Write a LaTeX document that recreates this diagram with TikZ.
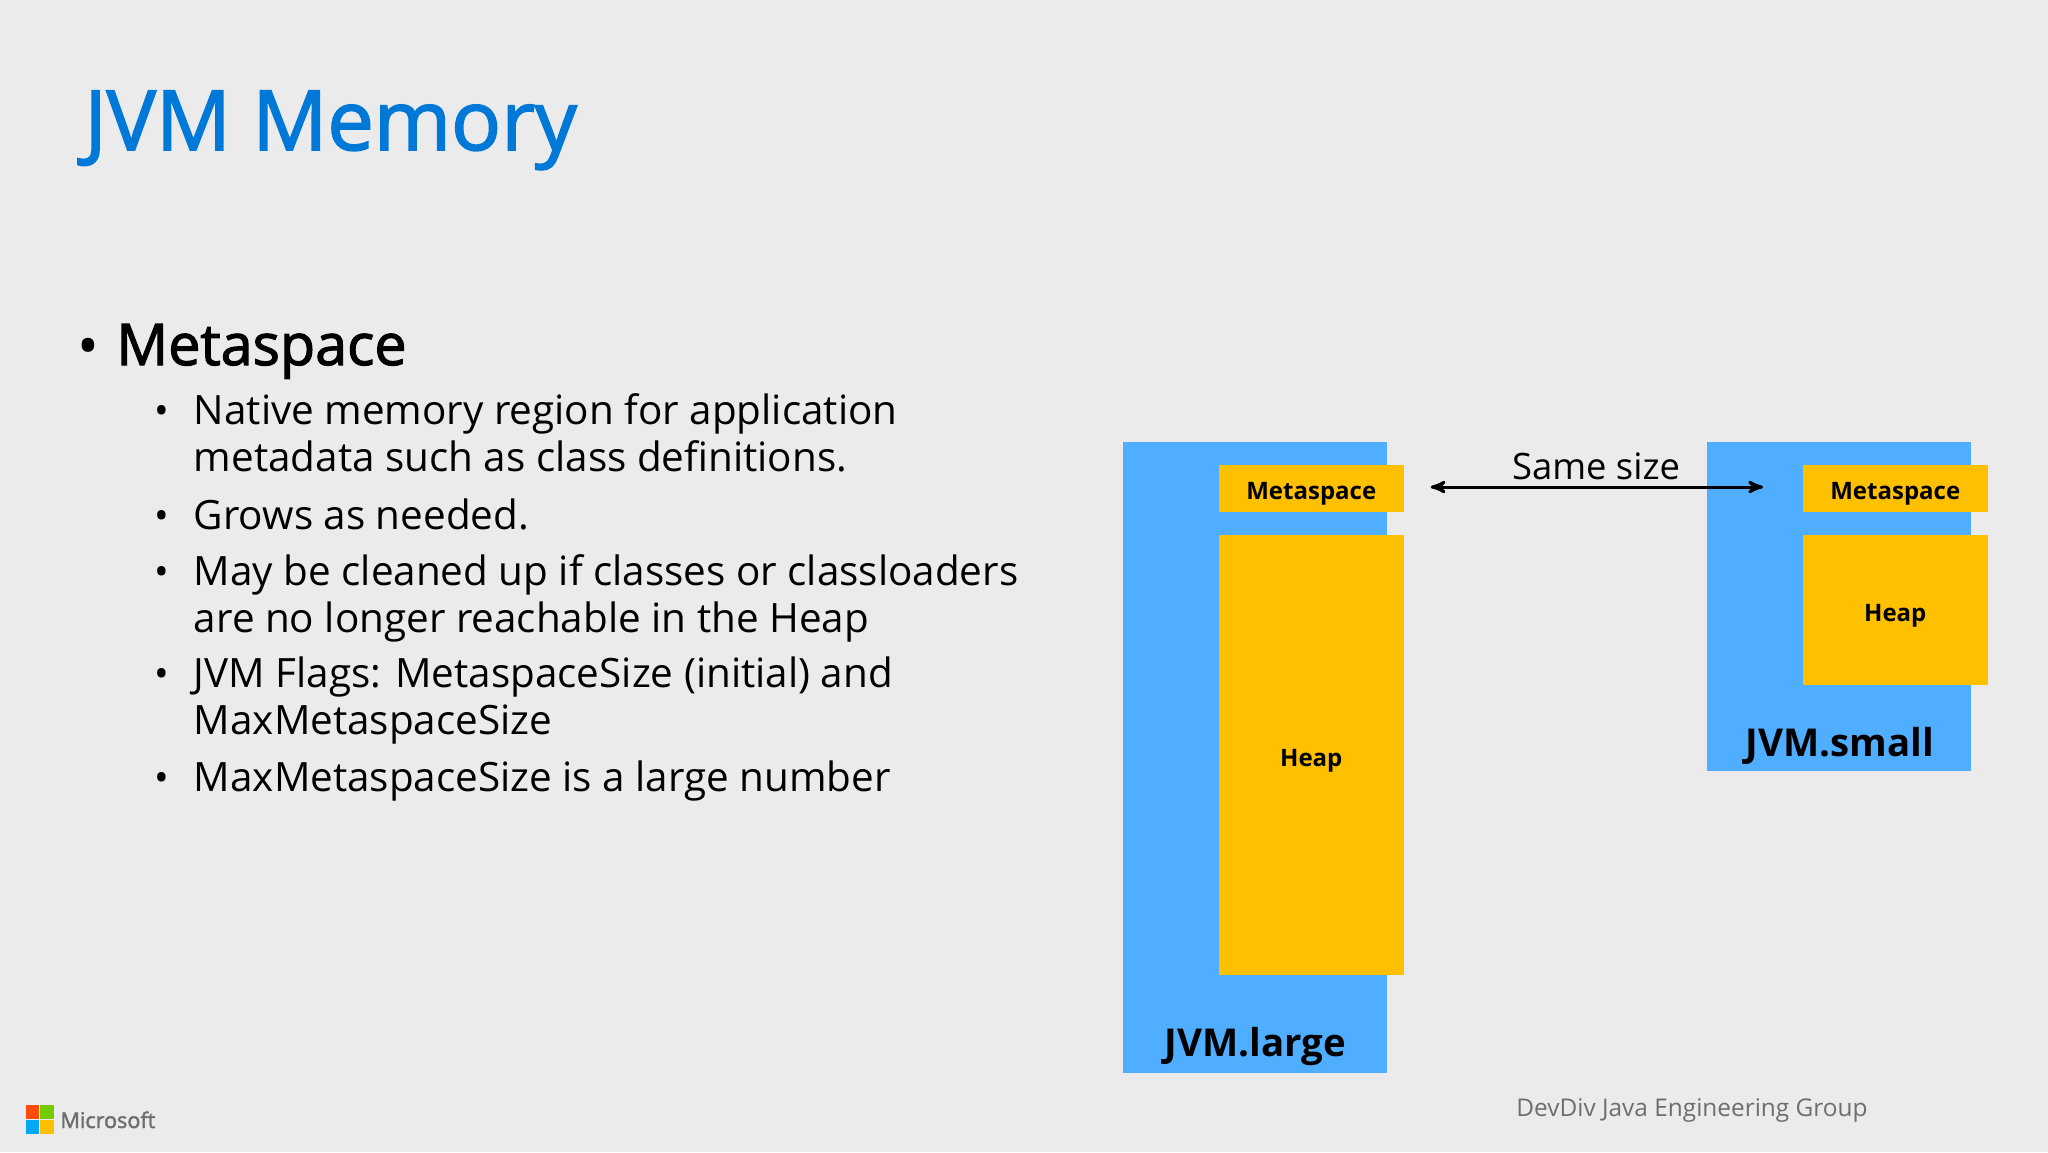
\documentclass[tikz,border=0pt]{standalone}
\usepackage{xcolor}
\usepackage{fontspec}
\setmainfont{Open Sans}
\newfontfamily\semifont[FakeBold=2]{Open Sans}
\usetikzlibrary{arrows}
\definecolor{slidebg}{HTML}{EBEBEB}
\definecolor{jvmblue}{HTML}{4FAEFF}
\definecolor{jvmyellow}{HTML}{FFC000}
\definecolor{titleblue}{HTML}{0078D7}
\definecolor{footgray}{HTML}{6E6E6E}
\definecolor{logored}{HTML}{FF4B0A}
\definecolor{logogreen}{HTML}{72CC00}
\definecolor{logoblue}{HTML}{00A8F4}
\definecolor{logoyellow}{HTML}{FFBE00}

\begin{document}
\begin{tikzpicture}[>=stealth',x=0.5pt,y=-0.5pt,
	jvm/.style={fill=jvmblue,inner sep=0pt},
	region/.style={fill=jvmyellow,inner sep=0pt,text height=11pt,text depth=0pt,font=\fontsize{12}{15}\selectfont\bfseries},
	jvmlabel/.style={inner sep=0pt,anchor=base,font=\fontsize{19.2}{23}\selectfont\bfseries},
	title/.style={inner sep=0pt,anchor=base west,text=titleblue,font=\fontsize{41.5}{50}\semifont},
	head/.style={inner sep=0pt,anchor=base west,font=\fontsize{28.7}{35}\semifont},
	item/.style={inner sep=0pt,anchor=base west,align=left,font=\fontsize{20.2}{23.5}\selectfont},
	dot/.style={inner sep=0pt,anchor=base,font=\fontsize{19.5}{23.5}\selectfont}]

	\fill [slidebg] (0,0) rectangle (2048,1152);
	\useasboundingbox (0,0) rectangle (2048,1152);

	% Text on the left
	\node [title] at (84,150) (title) {JVM Memory};
	\node [inner sep=0pt,anchor=base,font=\fontsize{29}{35}\selectfont] at (88,366) (headdot) {•};
	\node [head] at (116,365) (head) {Metaspace};
	\node [item] at (193.5,471.5) (native) {Native memory region for application\\metadata such as class definitions.};
	\node [item] at (193.5,529) (grows) {Grows as needed.};
	\node [item] at (193.5,632) (cleaned) {May be cleaned up if classes or classloaders\\are no longer reachable in the Heap};
	\node [item] at (193.5,734) (flags) {JVM Flags: MetaspaceSize (initial) and\\MaxMetaspaceSize};
	\node [item] at (193.5,791) (number) {MaxMetaspaceSize is a large number};
	\foreach \y in {424.5,529,585,687,791}
		\node [dot] at (162,\y) (dot\y) {•};

	% The two JVMs
	\node [jvm,minimum width=132pt,minimum height=315.5pt] at (1254.5,757) (large) {};
	\node [jvm,minimum width=132pt,minimum height=164.5pt] at (1839,606.5) (small) {};
	\node [region,minimum width=92.25pt,minimum height=23.5pt] at (1311.25,488.2) (metalarge) {Metaspace};
	\node [region,minimum width=92.25pt,minimum height=220pt] at (1311.25,755) (heaplarge) {Heap};
	\node [region,minimum width=92.25pt,minimum height=23.5pt] at (1895.25,488.2) (metasmall) {Metaspace};
	\node [region,minimum width=92.25pt,minimum height=75pt] at (1895.25,610) (heapsmall) {Heap};
	\node [jvmlabel] at (1255.5,1056) (namelarge) {JVM.large};
	\node [jvmlabel] at (1840,756) (namesmall) {JVM.small};

	% Same size arrow
	\coordinate (sizeleft) at (1430.7,487);
	\coordinate (sizeright) at (1763,487);
	\draw [<->,line width=1.5pt] (sizeleft) -- (sizeright);
	\node [inner sep=0pt,anchor=base,font=\fontsize{18.2}{23}\selectfont] at (1596,479) (same) {Same size};

	% Footer
	\node [inner sep=0pt,anchor=base west,text=footgray,font=\fontsize{12.2}{16}\selectfont] at (1516,1116) (group) {DevDiv Java Engineering Group};
	\node [inner sep=0pt,anchor=base west,text=footgray,font=\fontsize{10.8}{15}\semifont] at (60,1128) (brand) {Microsoft};
	\fill [logored] (26,1105) rectangle (39,1119);
	\fill [logogreen] (40,1105) rectangle (54,1119);
	\fill [logoblue] (26,1120) rectangle (39,1134);
	\fill [logoyellow] (40,1120) rectangle (54,1134);
\end{tikzpicture}
\end{document}
